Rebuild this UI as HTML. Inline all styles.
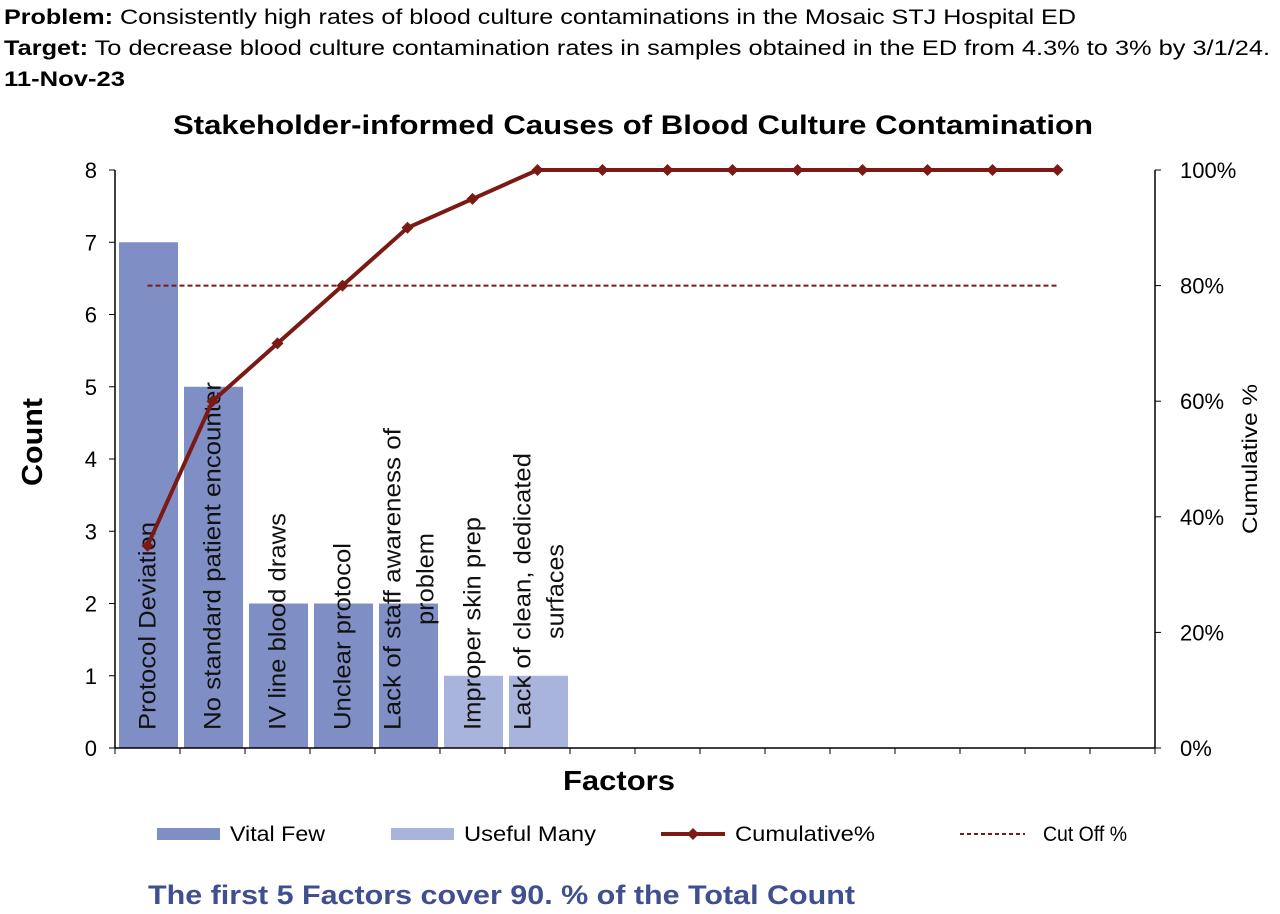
<!DOCTYPE html>
<html><head><meta charset="utf-8"><style>
body{margin:0;background:#fff;width:1280px;height:914px;overflow:hidden;font-family:"Liberation Sans",Arial,sans-serif}
svg{position:absolute;left:0;top:0}
</style></head><body>
<svg id="chart" width="1280" height="914" xmlns="http://www.w3.org/2000/svg" font-family="Liberation Sans, Arial, sans-serif">
<text x="4" y="24" font-size="21" textLength="1072" lengthAdjust="spacingAndGlyphs" fill="#000"><tspan font-weight="bold">Problem:</tspan> Consistently high rates of blood culture contaminations in the Mosaic STJ Hospital ED</text>
<text x="4" y="55" font-size="21" textLength="1266" lengthAdjust="spacingAndGlyphs" fill="#000"><tspan font-weight="bold">Target:</tspan> To decrease blood culture contamination rates in samples obtained in the ED from 4.3% to 3% by 3/1/24.</text>
<text x="4" y="86" font-size="21" font-weight="bold" textLength="121" lengthAdjust="spacingAndGlyphs" fill="#000">11-Nov-23</text>
<text x="173" y="134" font-size="27" font-weight="bold" textLength="920" lengthAdjust="spacingAndGlyphs">Stakeholder-informed Causes of Blood Culture Contamination</text>
<text transform="translate(42,442) rotate(-90)" font-size="29" font-weight="bold" text-anchor="middle" textLength="88" lengthAdjust="spacingAndGlyphs">Count</text>
<text transform="translate(1257,459) rotate(-90)" font-size="21" text-anchor="middle" textLength="150" lengthAdjust="spacingAndGlyphs">Cumulative %</text>
<text x="563" y="790" font-size="28" font-weight="bold" textLength="112" lengthAdjust="spacingAndGlyphs">Factors</text>
<g id="plot"></g>
<g>
<rect x="157" y="828" width="63" height="12" fill="#7f8fc6"/>
<text x="230" y="841" font-size="21" textLength="95" lengthAdjust="spacingAndGlyphs">Vital Few</text>
<rect x="391" y="828" width="63" height="12" fill="#a9b4dc"/>
<text x="464" y="841" font-size="21" textLength="132" lengthAdjust="spacingAndGlyphs">Useful Many</text>
<line x1="661" y1="834" x2="725" y2="834" stroke="#7b1a14" stroke-width="4"/>
<path d="M693 828 L699 834 L693 840 L687 834Z" fill="#7b1a14"/>
<text x="735" y="841" font-size="21" textLength="140" lengthAdjust="spacingAndGlyphs">Cumulative%</text>
<line x1="960" y1="834" x2="1025" y2="834" stroke="#7b1a14" stroke-width="2" stroke-dasharray="4,3"/>
<text x="1043" y="841" font-size="21" textLength="84" lengthAdjust="spacingAndGlyphs">Cut Off %</text>
</g>
<text x="148" y="904" font-size="27" font-weight="bold" fill="#3f4f8f" textLength="707" lengthAdjust="spacingAndGlyphs">The first 5 Factors cover 90.  % of the Total Count</text>
</svg>
<script>
const categories=["Protocol Deviation","No standard patient encounter","IV line blood draws","Unclear protocol","Lack of staff awareness of|problem","Improper skin prep","Lack of clean, dedicated|surfaces"];
const counts=[7,5,2,2,2,1,1];
const vitalFew=[true,true,true,true,true,false,false];
const cumulative=[35,60,70,80,90,95,100,100,100,100,100,100,100,100,100];
const cutoff=[80];
const leftTicks=[0,1,2,3,4,5,6,7,8];
const rightTicks=["0%","20%","40%","60%","80%","100%"];
const nSlots=16;
const X0=115,X1=1155,Y0=748,Y1=170,SL=(X1-X0)/nSlots;
const labelLen=[[208],[348],[217],[187],[302,92],[213],[277,95]];
const ns="http://www.w3.org/2000/svg";
const g=document.getElementById('plot');
function yL(v){return Y0-(v/8)*(Y0-Y1);}
function yR(p){return Y0-(p/100)*(Y0-Y1);}
function xC(i){return X0+SL*(i+0.5);}
function mk(t,a){const e=document.createElementNS(ns,t);for(const k in a)e.setAttribute(k,a[k]);g.appendChild(e);return e;}
counts.forEach((c,i)=>{
 const r=mk('rect',{x:X0+SL*i+4,y:yL(c),width:SL-6,height:Y0-yL(c),fill:vitalFew[i]?'#7f8fc6':'#a9b4dc'});
 
 
});
categories.forEach((c,i)=>{
 const lines=c.split('|');
 lines.forEach((ln,j)=>{
  const off=lines.length>1?(j===0?-15:18):0;
  const len=labelLen[i][j];
  const t=mk('text',{'font-size':24,fill:'#111',textLength:len,lengthAdjust:'spacingAndGlyphs'});
  if(j===0){
   t.setAttribute('transform',`translate(${xC(i)+off+8},${Y0-18}) rotate(-90)`);
  }else{
   t.setAttribute('text-anchor','middle');
   t.setAttribute('transform',`translate(${xC(i)+off+8},${Y0-18-labelLen[i][0]/2}) rotate(-90)`);
  }
  t.textContent=ln;
  
  
 });
});
mk('line',{x1:X0,y1:Y1,x2:X0,y2:Y0,stroke:'#000','stroke-width':1.5});
mk('line',{x1:X1,y1:Y1,x2:X1,y2:Y0,stroke:'#000','stroke-width':1.5});
mk('line',{x1:X0,y1:Y0,x2:X1,y2:Y0,stroke:'#000','stroke-width':1.5});
leftTicks.forEach(v=>{
 mk('line',{x1:X0-6,y1:yL(v),x2:X0,y2:yL(v),stroke:'#000'});
 const t=mk('text',{x:X0-18,y:yL(v)+8,'font-size':22,'text-anchor':'end'});t.textContent=v;
 
 
});
rightTicks.forEach((s,i)=>{
 const y=yR(i*20);
 mk('line',{x1:X1,y1:y,x2:X1+6,y2:y,stroke:'#000'});
 const t=mk('text',{x:X1+25,y:y+8,'font-size':22});t.textContent=s;
 
 
});
for(let i=0;i<=nSlots;i++)mk('line',{x1:X0+SL*i,y1:Y0,x2:X0+SL*i,y2:Y0+6,stroke:'#000'});
const cl=mk('line',{x1:xC(0),y1:yR(cutoff[0]),x2:xC(cumulative.length-1),y2:yR(cutoff[0]),stroke:'#7b1a14','stroke-width':2,'stroke-dasharray':'5,3'});


const pl=mk('polyline',{points:cumulative.map((p,i)=>xC(i)+','+yR(p)).join(' '),fill:'none',stroke:'#7b1a14','stroke-width':4});


cumulative.forEach((p,i)=>{
 const x=xC(i),y=yR(p);
 const m=mk('path',{d:`M${x} ${y-6} L${x+6} ${y} L${x} ${y+6} L${x-6} ${y}Z`,fill:'#7b1a14'});
 
 
});
</script>
</body></html>
